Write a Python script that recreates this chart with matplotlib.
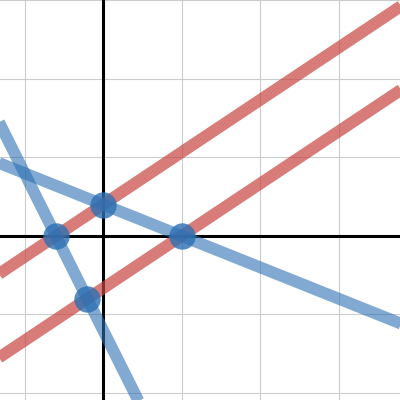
import matplotlib
matplotlib.use("Agg")
import matplotlib.pyplot as plt
import numpy as np

red_lines = [(2/3, 2), (2/3, -10/3)]   # slope, intercept
blue_lines = [(-2/5, 2), (-2, -6)]
pts_x = [-3, 0, 5, -1]
pts_y = [0, 2, 0, -4]

fig = plt.figure(figsize=(4, 4), dpi=100)
ax = fig.add_axes([0, 0, 1, 1])
xmin, xmax, ymin, ymax = -6.56, 18.9, -10.45, 15.03
ax.set_xlim(xmin, xmax); ax.set_ylim(ymin, ymax)
for v in np.arange(-5, 20, 5):
    ax.axvline(v, color='#cccccc', lw=0.8, zorder=0)
for v in np.arange(-10, 16, 5):
    ax.axhline(v, color='#cccccc', lw=0.8, zorder=0)
ax.axvline(0, color='black', lw=2.2, zorder=1)
ax.axhline(0, color='black', lw=2.2, zorder=1)
xs = np.array([xmin - 5, xmax + 5])
for m, b in red_lines:
    ax.plot(xs, m * xs + b, color='#c74440', alpha=0.7, lw=8.5, solid_capstyle='butt', zorder=2)
for m, b in blue_lines:
    ax.plot(xs, m * xs + b, color='#2d70b3', alpha=0.6, lw=8.5, solid_capstyle='butt', zorder=2)
ax.plot(pts_x, pts_y, 'o', color='#2d70b3', alpha=0.8, ms=19, mec='none', zorder=3)
ax.set_xticks([]); ax.set_yticks([])
for s in ax.spines.values():
    s.set_visible(False)
fig.savefig('out.png', dpi=100)
